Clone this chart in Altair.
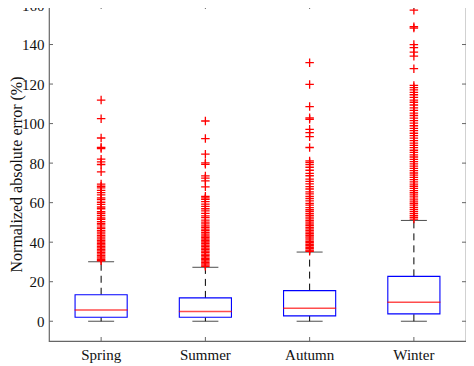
import altair as alt
import pandas as pd

seasons = ["Spring", "Summer", "Autumn", "Winter"]
q1 = [2.0, 2.0, 2.7, 3.7]
median = [5.7, 4.9, 6.6, 9.6]
q3 = [13.4, 11.8, 15.5, 22.7]
whisk_lo = [0.0, 0.0, 0.0, 0.0]
whisk_hi = [30.1, 27.3, 35.0, 51.0]

out_spring = [111.9, 102.5, 92.7, 88.0, 87.4, 82.0, 80.6, 79.3, 75.6,
              69.4, 68.3, 67.5, 66.2, 65.1, 63.9, 62.4, 61.6, 60.2, 59.1,
              57.8, 56.9, 55.4, 54.6, 53.5, 52.3, 51.6, 50.4, 49.5, 48.8,
              47.6, 46.9, 45.8, 45.1, 44.2, 43.3, 42.6, 41.7, 40.9, 40.1,
              39.3, 38.6, 37.8, 37.1, 36.3, 35.6, 34.8, 34.1, 33.3, 32.6,
              31.9, 31.2, 30.6]
out_summer = [101.3, 92.4, 84.5, 80.1, 79.4, 73.5, 72.4, 71.0, 68.0,
              63.2, 62.4, 61.7, 60.5, 59.3, 58.1, 56.9, 55.8, 54.6, 53.3,
              52.4, 51.2, 50.1, 49.3, 48.2, 47.5, 46.6, 45.8, 44.9, 44.1,
              43.2, 42.5, 41.6, 40.8, 40.1, 39.3, 38.5, 37.8, 37.0, 36.3,
              35.5, 34.8, 34.0, 33.3, 32.6, 31.8, 31.1, 30.4, 29.7, 29.0,
              28.4, 27.8]
out_autumn = [130.8, 119.8, 108.6, 102.9, 102.2, 97.1, 95.4, 93.4, 87.9,
              81.1, 80.3, 79.2, 77.9, 76.4, 74.8, 73.6, 71.9, 70.8, 69.5,
              68.1, 66.9, 65.5, 64.4, 63.2, 62.1, 60.9, 59.6, 58.7, 57.5,
              56.4, 55.6, 54.5, 53.6, 52.7, 51.8, 50.9, 50.1, 49.2, 48.4,
              47.5, 46.7, 45.9, 45.1, 44.3, 43.5, 42.7, 42.0, 41.2, 40.4,
              39.7, 38.9, 38.2, 37.4, 36.7, 36.0, 35.4]
out_winter = [157.4, 149.0, 148.3, 140.0, 138.4, 136.2, 134.1, 127.8,
              119.3, 118.2, 117.1, 115.8, 114.6, 113.3, 111.9, 110.8, 109.4,
              107.9, 106.7, 105.3, 104.1, 102.8, 101.5, 100.2, 98.9, 97.6,
              96.4, 95.1, 93.9, 92.6, 91.4, 90.1, 89.0, 87.8, 86.5, 85.4,
              84.2, 83.1, 81.9, 80.8, 79.6, 78.5, 77.3, 76.2, 75.0, 73.9,
              72.8, 71.6, 70.5, 69.4, 68.3, 67.2, 66.1, 65.0, 63.9, 62.9,
              61.8, 60.8, 59.7, 58.7, 57.6, 56.6, 55.6, 54.6, 53.6, 52.6,
              51.7]
y_ticks = [0, 20, 40, 60, 80, 100, 120, 140, 160]

W, H = 417, 336
FONT = "Liberation Serif"
FRAME = "#666666"

stats = pd.DataFrame({"season": seasons, "q1": q1, "med": median, "q3": q3,
                      "lo": whisk_lo, "hi": whisk_hi})
outs = pd.DataFrame({
    "season": ["Spring"] * len(out_spring) + ["Summer"] * len(out_summer)
    + ["Autumn"] * len(out_autumn) + ["Winter"] * len(out_winter),
    "value": out_spring + out_summer + out_autumn + out_winter,
})
yt = pd.DataFrame({"v": y_ticks})
xt = pd.DataFrame({"season": seasons})

xscale = alt.Scale(domain=seasons, paddingInner=0, paddingOuter=0)
yscale = alt.Scale(domain=[-10, 160], nice=False, zero=False)

X = alt.X("season:N", scale=xscale, sort=seasons,
          axis=alt.Axis(title=None, labelAngle=0, ticks=False, domain=False,
                        labelFont=FONT, labelFontSize=15, labelColor="#111",
                        labelPadding=6))
Y = alt.Y("q3:Q", scale=yscale,
          axis=alt.Axis(title="Normalized absolute error (%)", values=y_ticks,
                        grid=False, ticks=False, domain=False,
                        labelFont=FONT, labelFontSize=15, labelColor="#111",
                        labelPadding=5, titleFont=FONT, titleFontSize=16,
                        titleFontWeight="normal", titleColor="#111",
                        titleBaseline="alphabetic", titleAngle=270,
                        titleAlign="center", titleX=-28, titleY=169))

base = alt.Chart(stats)

upper = base.mark_rule(color="black", strokeDash=[7, 5], strokeWidth=1).encode(
    x=X, y=alt.Y("q3:Q", scale=yscale), y2="hi:Q")
lower = base.mark_rule(color="black", strokeDash=[7, 5], strokeWidth=1).encode(
    x=X, y=alt.Y("lo:Q", scale=yscale), y2="q1:Q")
box = base.mark_bar(width={"band": 0.5}, fill="white", stroke="#0000FF",
                    strokeWidth=1.1).encode(x=X, y=Y, y2="q1:Q")
cap_hi = base.mark_tick(color="black", size=26, thickness=1).encode(
    x=X, y=alt.Y("hi:Q", scale=yscale))
cap_lo = base.mark_tick(color="black", size=26, thickness=1).encode(
    x=X, y=alt.Y("lo:Q", scale=yscale))
med = base.mark_tick(color="#FF0000", size=53, thickness=1.4).encode(
    x=X, y=alt.Y("med:Q", scale=yscale))

pts = alt.Chart(outs).mark_point(shape="M-1,0L1,0M0,-1L0,1", filled=False,
                                 color="#FF0000", size=72, strokeWidth=1.3,
                                 opacity=1).encode(
    x=X, y=alt.Y("value:Q", scale=yscale))

tl = alt.Chart(yt).mark_rule(color=FRAME).encode(
    y=alt.Y("v:Q", scale=yscale), x=alt.value(0), x2=alt.value(4))
tr = alt.Chart(yt).mark_rule(color=FRAME).encode(
    y=alt.Y("v:Q", scale=yscale), x=alt.value(W - 4), x2=alt.value(W))
tb = alt.Chart(xt).mark_rule(color=FRAME).encode(
    x=X, y=alt.value(H - 4), y2=alt.value(H))
tt = alt.Chart(xt).mark_rule(color=FRAME).encode(
    x=X, y=alt.value(0), y2=alt.value(4))

chart = alt.layer(upper, lower, box, cap_hi, cap_lo, med, pts, tl, tr, tb, tt).properties(
    width=W, height=H,
    autosize=alt.AutoSizeParams(type="none"),
    padding={"left": 41, "top": -3, "right": 0, "bottom": 24},
    background="white",
).configure_view(stroke=FRAME, strokeWidth=1.2)

chart.save("out.html", embed_options={"renderer": "svg", "actions": False})
